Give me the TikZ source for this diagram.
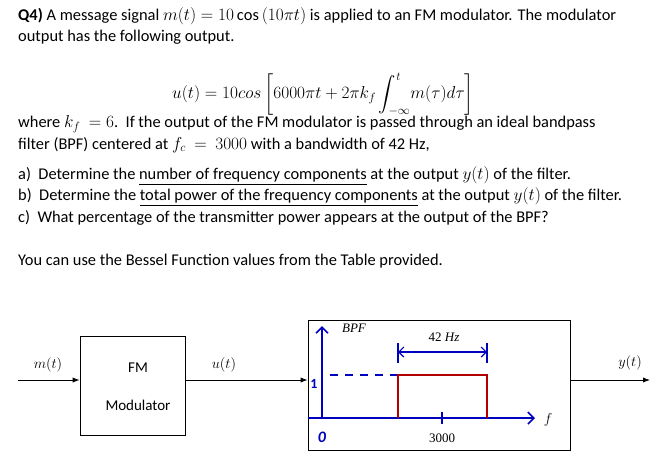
\documentclass[tikz,border=0pt]{standalone}
\usepackage{amsmath}
\usepackage{fontspec}
\setmainfont{Carlito}
\usetikzlibrary{arrows.meta}
\begin{document}
\begin{tikzpicture}[x=1pt,y=-1pt,
  txt/.style={anchor=west,inner sep=0,font=\fontsize{16.4}{18}\selectfont},
  blk/.style={draw,thick},
  conn/.style={-{Latex[length=7pt]},thick},
  hand/.style={draw=blue!75!black,line width=1.6pt},
  lbl/.style={inner sep=0,font=\fontsize{15}{17}\selectfont}]
\useasboundingbox (0,0) rectangle (668,467);
\node[txt] (l1) at (18,16) {\textbf{Q4)} A message signal $m(t)=10\cos\,(10\pi t)$ is applied to an FM modulator. The modulator};
\node[txt] (l2) at (18,37) {output has the following output.};
\node[txt] (eq) at (172,94) {$u(t)=10cos\left[6000\pi t+2\pi k_f\displaystyle\int_{-\infty}^{t}\! m(\tau)d\tau\right]$};
\node[txt] (l3) at (18,124) {where $k_f\ =6$.\ \ If the output of the FM modulator is passed through an ideal bandpass};
\node[txt] (l4) at (18,145) {filter (BPF) centered at $f_c\ =\ 3000$ with a bandwidth of 42 Hz,};
\node[txt] (a) at (18,176) {a)\ \ Determine the \underline{number of frequency components} at the output $y(t)$ of the filter.};
\node[txt] (b) at (18,197) {b)\ \ Determine the \underline{total power of the frequency components} at the output $y(t)$ of the filter.};
\node[txt] (c) at (18,218) {c)\ \ What percentage of the transmitter power appears at the output of the BPF?};
\node[txt] (y) at (18,261) {You can use the Bessel Function values from the Table provided.};
% diagram
\node[blk,minimum width=105,minimum height=99,inner sep=0] (fm) at (132.5,385.5) {};
\node[lbl] (fmt) at (138,368) {FM};
\node[lbl] (fmm) at (138,405) {Modulator};
\node[blk,minimum width=262,minimum height=130,inner sep=0] (bpf) at (439,385) {};
\coordinate (in) at (18,380);
\coordinate (out) at (650,380);
\draw[conn] (in) -- (in -| fm.west);
\draw[conn] (fm.east |- in) -- (bpf.west |- in);
\draw[conn] (bpf.east |- in) -- (out);
\node[lbl] (mt) at (48,365) {$m(t)$};
\node[lbl] (ut) at (224,365) {$u(t)$};
\node[lbl] (yt) at (630,363) {$y(t)$};
% BPF sketch
\coordinate (o) at (322,418);
\coordinate (xe) at (535,418);
\coordinate (ye) at (322,326);
\draw[hand,-{Straight Barb[length=6pt]}] (bpf.west |- o) -- (xe);
\draw[hand,-{Straight Barb[length=6pt]}] (o) -- (ye);
\draw[hand,dashed,dash pattern=on 8pt off 7pt] (330,375) -- (398,375);
\draw[red!70!black,line width=1.2pt] (398,418) -- (398,375) -- (487,375) -- (487,418);
\draw[hand,line width=1.2pt] (442,412) -- (442,424);
\draw[hand,line width=1.2pt] (398,343) -- (398,363) (487,343) -- (487,363);
\draw[hand,line width=1.2pt,{Straight Barb[length=5pt]}-{Straight Barb[length=5pt]}] (398,352) -- (487,352);
\node[lbl,text=blue!75!black,font=\fontsize{16}{18}\selectfont\bfseries\itshape] (zero) at (322,437) {0};
\node[lbl,text=blue!75!black,font=\fontsize{14}{16}\selectfont\bfseries] (one) at (314,384) {1};
\node[lbl,font=\fontsize{13}{15}\selectfont] (k3) at (442,438) {\fontspec{Liberation Serif}3000};
\node[lbl,font=\fontsize{13}{15}\selectfont] (bw) at (444,337) {\fontspec{Liberation Serif}42 \textit{Hz}};
\node[lbl,font=\fontsize{13}{15}\selectfont] (bpfl) at (354,328) {\fontspec{Liberation Serif}\itshape BPF};
\node[lbl] (f) at (548,420) {$f$};
\end{tikzpicture}
\end{document}
